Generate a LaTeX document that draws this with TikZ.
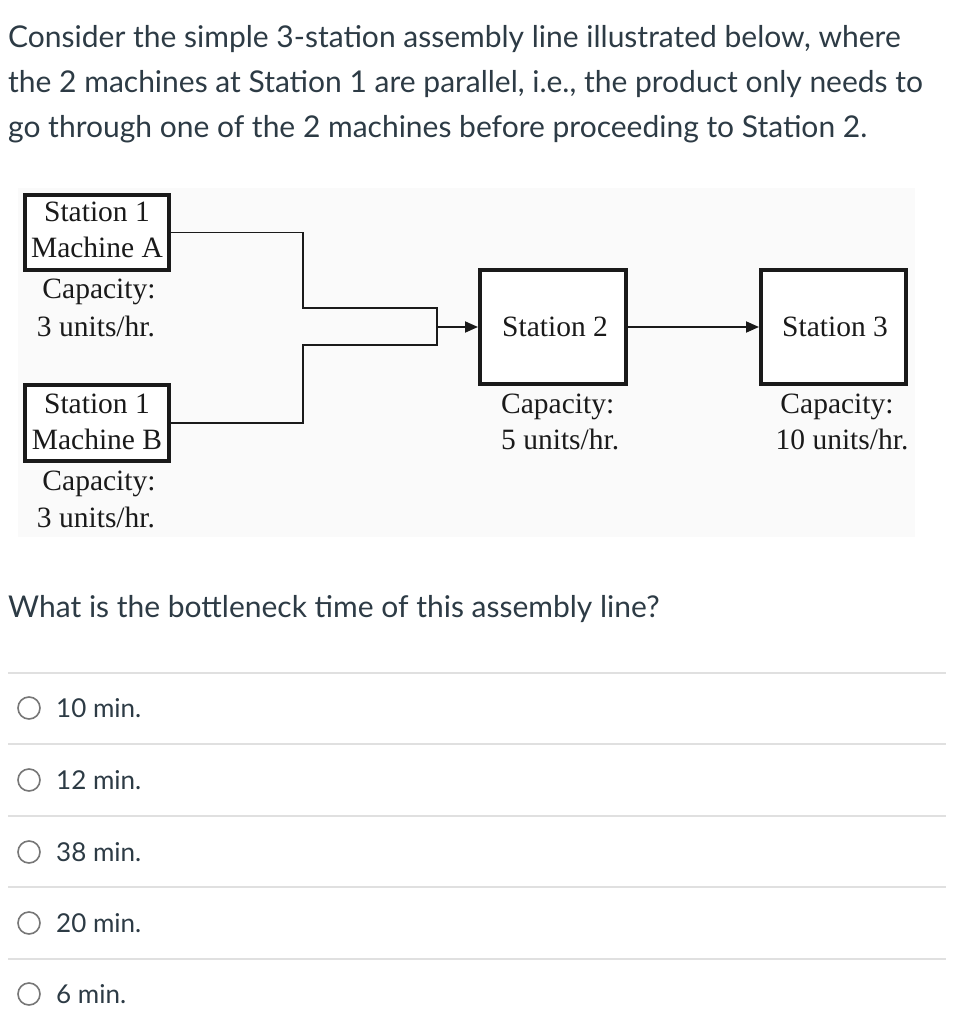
\documentclass[tikz,border=0pt]{standalone}
\usepackage{fontspec}
\setmainfont{Lato}
\newfontfamily\timesf{Liberation Serif}
\usetikzlibrary{arrows.meta}
\definecolor{txt}{HTML}{2D3B45}
\definecolor{bgc}{HTML}{FAFAFA}
\definecolor{sepc}{HTML}{E0E0E0}
\definecolor{radc}{HTML}{777777}
\definecolor{ink}{HTML}{1A1A1A}
\begin{document}
\begin{tikzpicture}[x=1pt,y=-1pt,
  title/.style={anchor=base west, inner sep=0pt, text=txt, font=\fontsize{30}{36}\selectfont},
  opt/.style={anchor=base west, inner sep=0pt, text=txt, font=\fontsize{26}{31}\selectfont},
  lbl/.style={anchor=base, inner sep=0pt, text=ink, font=\timesf\fontsize{29.5}{35}\selectfont},
  boxn/.style={draw=ink, line width=3.8pt, inner sep=0pt, fill=white},
  conn/.style={draw=ink, line width=1.8pt},
  arr/.style={conn, -{Triangle[length=13pt,width=11pt]}},
  radio/.style={circle, draw=radc, line width=1.6pt, minimum size=22pt, inner sep=0pt},
  sepline/.style={draw=sepc, line width=1.6pt}
]
\useasboundingbox (0,0) rectangle (966,1024);
\fill[white] (0,0) rectangle (966,1024);

% question text
\node[title] (t1) at (8,48) {Consider the simple 3-station assembly line illustrated below, where};
\node[title] (t2) at (8,93) {the 2 machines at Station 1 are parallel, i.e., the product only needs to};
\node[title] (t3) at (8,138) {go through one of the 2 machines before proceeding to Station 2.};

% diagram background
\fill[bgc] (18,188) rectangle (915,537);

% boxes
\node[boxn, minimum width=144.2pt, minimum height=75.2pt] (mA) at (97,232.5) {};
\node[boxn, minimum width=144.2pt, minimum height=76.2pt] (mB) at (97,423) {};
\node[boxn, minimum width=146.2pt, minimum height=114.2pt] (s2) at (553,327) {};
\node[boxn, minimum width=145.2pt, minimum height=114.2pt] (s3) at (833.5,327) {};

% labels
\node[lbl] (mA1) at (97,222) {Station 1};
\node[lbl] (mA2) at (97,258) {Machine A};
\node[lbl] (cA1) at (99,298) {Capacity:};
\node[lbl] (cA2) at (96,336) {3 units/hr.};
\node[lbl] (mB1) at (97,413) {Station 1};
\node[lbl] (mB2) at (97,449) {Machine B};
\node[lbl] (cB1) at (99,490) {Capacity:};
\node[lbl] (cB2) at (96,527) {3 units/hr.};
\node[lbl] (s2t) at (555,336) {Station 2};
\node[lbl, anchor=base west] (c21) at (501,413) {Capacity:};
\node[lbl, anchor=base west] (c22) at (501,449) {5 units/hr.};
\node[lbl] (s3t) at (835,336) {Station 3};
\node[lbl] (c31) at (837,413) {Capacity:};
\node[lbl] (c32) at (842,449) {10 units/hr.};

% connectors
\coordinate (ja) at (303,308);
\coordinate (jb) at (303,345);
\coordinate (m1) at (437,308);
\coordinate (m2) at (437,345);
\coordinate (jm) at (437,327);
\draw[conn] (mA.east) -| (ja) -- (m1) -- (m2) -- (jb) |- (mB.east);
\draw[arr] (jm) -- (s2.west);
\draw[arr] (s2.east) -- (s3.west);

% question
\node[title] (q) at (8,617) {What is the bottleneck time of this assembly line?};

% options
\foreach \y in {673,744,816,887,959} \draw[sepline] (8,\y) -- (946,\y);
\node[radio] (r1) at (29,708) {};
\node[radio] (r2) at (29,780) {};
\node[radio] (r3) at (29,852) {};
\node[radio] (r4) at (29,923) {};
\node[radio] (r5) at (29,994) {};
\node[opt] (o1) at (56,717) {10 min.};
\node[opt] (o2) at (56,789) {12 min.};
\node[opt] (o3) at (56,861) {38 min.};
\node[opt] (o4) at (56,932) {20 min.};
\node[opt] (o5) at (56,1003) {6 min.};
\end{tikzpicture}
\end{document}
